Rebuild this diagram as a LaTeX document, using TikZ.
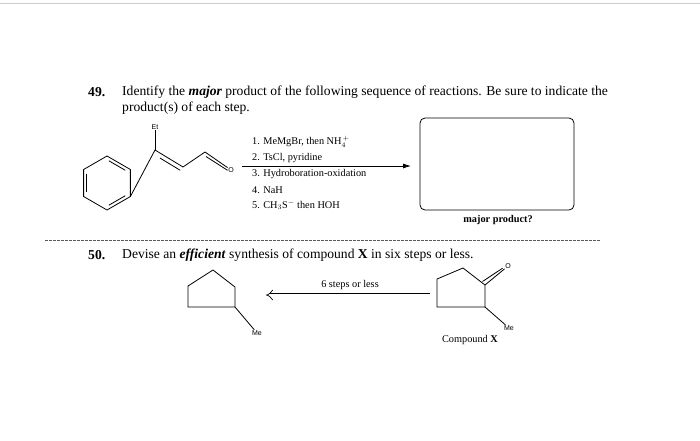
\documentclass[tikz,border=0pt]{standalone}
\usepackage{fontspec}
\setmainfont{Liberation Serif}
\newfontfamily\chemsans{Liberation Sans}
\usetikzlibrary{arrows.meta,calc}
\begin{document}
\begin{tikzpicture}[x=1pt,y=-1pt,
  bond/.style={line width=0.8pt},
  txt/.style={anchor=west,inner sep=0pt,font=\fontsize{13.6}{15}\selectfont},
  rg/.style={anchor=west,inner sep=0pt,font=\fontsize{10.3}{11}\selectfont},
  atom/.style={inner sep=0.5pt,font=\chemsans\fontsize{7}{8}\selectfont}]
\useasboundingbox (0,0) rectangle (700,440);
\draw[gray!40,line width=0.8pt] (0,3) -- (700,3);
% question 49
\node[txt,font=\bfseries\fontsize{13.6}{15}\selectfont] (q49) at (88,92) {49.};
\node[txt] (t49a) at (122,92) {Identify the \textbf{\textit{major}} product of the following sequence of reactions. Be sure to indicate the};
\node[txt] (t49b) at (122,108) {product(s) of each step.};
% benzene
\foreach \i in {0,...,5}{\coordinate (b\i) at ($(107,183)+(90-60*\i:27)$);}
\draw[bond] (b0)--(b1)--(b2)--(b3)--(b4)--(b5)--cycle;
\foreach \i/\j in {0/1,2/3,4/5}{\draw[bond] ($(b\i)!0.15!(b\j)!0.14!90:(b\j)$) -- ($(b\j)!0.15!(b\i)!0.14!-90:(b\i)$);}
\coordinate (c1) at (155,150);
\coordinate (c2) at (183,167);
\coordinate (c3) at (205,152);
\node[atom] (et) at (155,127) {Et};
\node[atom] (o1) at (231,170) {O};
\draw[bond] (b1)--(c1)--(c2)--(c3);
\draw[bond] (c1)--(et);
\draw[bond] ($(c1)!0.18!(c2)+(0,5)$) -- ($(c2)!0.1!(c1)+(0,5)$);
\draw[bond] (c3)--(o1);
\draw[bond] ($(c3)+(1,4.5)$)--($(o1.north west)+(0,3.5)$);
% reagents
\node[rg] (r1) at (252,142) {1. MeMgBr, then NH$_4^{\,+}$};
\node[rg] (r2) at (252,158) {2. TsCl, pyridine};
\node[rg] (r3) at (252,174) {3. Hydroboration-oxidation};
\node[rg] (r4) at (252,190) {4. NaH};
\node[rg] (r5) at (252,205) {5. CH$_3$S$^-$ then HOH};
\node[draw,rounded corners=5pt,line width=0.8pt,minimum width=154pt,minimum height=92pt] (box) at (497,164) {};
\coordinate (as) at (242,166);
\coordinate (ae) at (411,166);
\draw[line width=0.8pt,-{Latex[length=8pt,width=5pt]}] (as) -- (ae);
\node[rg,anchor=center,font=\bfseries\fontsize{10.3}{11}\selectfont] (mp) at (498,220) {major product?};
% separator
\draw[line width=0.7pt,gray!70!black,dash pattern=on 3pt off 1pt] (45,240) -- (600,240);
% question 50
\node[txt,font=\bfseries\fontsize{13.6}{15}\selectfont] (q50) at (88,255) {50.};
\node[txt] (t50) at (122,255) {Devise an \textbf{\textit{efficient}} synthesis of compound \textbf{X} in six steps or less.};
% left ring
\coordinate (l1) at (213,270);\coordinate (l2) at (188,286);\coordinate (l3) at (188,307);
\coordinate (l4) at (235,307);\coordinate (l5) at (235,287);
\draw[bond] (l1)--(l2)--(l3)--(l4)--(l5)--cycle;
\node[atom] (me1) at (257,333) {Me};
\draw[bond] (l4)--(me1);
% right ring
\coordinate (k1) at (463,268);\coordinate (k2) at (437,279);\coordinate (k3) at (437,307);
\coordinate (k4) at (485,307);\coordinate (k5) at (485,285);
\draw[bond] (k1)--(k2)--(k3)--(k4)--(k5)--cycle;
\node[atom] (o2) at (508,266) {O};
\draw[bond] (k5)--(o2);
\draw[bond] ($(k5)+(-2.5,-3.5)$)--($(o2.south west)+(-2,-1)$);
\node[atom] (me2) at (509,328) {Me};
\draw[bond] (k4)--(me2);
\node[rg,anchor=center] (cx) at (470,340) {Compound \textbf{X}};
% retro arrow
\coordinate (ra) at (430,295);\coordinate (rb) at (266,295);
\draw[line width=0.7pt,double,double distance=3pt,-{Implies}] (ra) -- (rb);
\node[rg,anchor=center] (lab) at (350,285) {6 steps or less};
\end{tikzpicture}
\end{document}
